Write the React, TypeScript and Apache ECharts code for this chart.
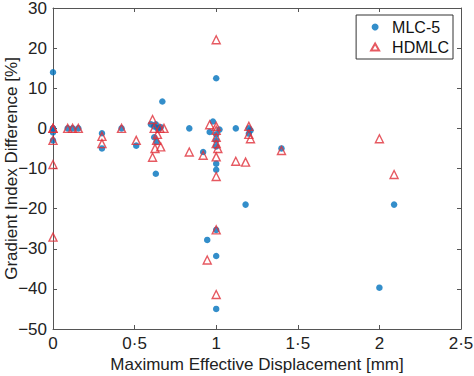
import React, { useEffect, useRef } from "react";
import * as echarts from "echarts";

const mlc5X = [0, 0, 0, 0, 0, 0.09, 0.12, 0.155, 0.3, 0.3, 0.42, 0.51, 0.6, 0.62, 0.63, 0.64, 0.65, 0.66, 0.67, 0.62, 0.635, 0.63, 0.835, 0.92, 0.945, 0.96, 0.98, 1.0, 1.02, 1.0, 1.0, 1.0, 1.0, 1.0, 1.0, 1.0, 1.0, 1.12, 1.18, 1.2, 1.2, 1.21, 1.4, 2.0, 2.09];
const mlc5Y = [14, 0, 0, -3, -1, 0, 0, 0, -1.2, -5, 0, -4.3, 1, 0.5, 1, 0, 0, 0.3, 6.7, -2.2, -3.4, -11.3, 0, -5.9, -27.8, -0.9, 1.7, 12.5, -0.3, -1.5, -3, -4.5, -8.8, -10.3, -25.3, -31.8, -45, 0, -19, 0, -1.3, -0.5, -5, -39.7, -19];

const hdmlcX = [0, 0, 0, 0, 0, 0.09, 0.12, 0.155, 0.3, 0.3, 0.42, 0.51, 0.61, 0.62, 0.64, 0.655, 0.66, 0.625, 0.61, 0.635, 0.68, 0.835, 0.92, 0.945, 0.96, 1.0, 1.0, 1.0, 1.0, 1.0, 1.01, 1.0, 1.0, 1.0, 1.0, 1.12, 1.18, 1.2, 1.21, 1.2, 1.4, 2.0, 2.09];
const hdmlcY = [0, 0, -3, -9, -27.1, 0, 0, 0, -2, -3.8, 0, -3, 2.2, 0, -1.5, 0, -4.6, -5, -7.2, -3, 0, -5.9, -6.7, -32.8, 0.9, 22.1, 0.5, -0.5, -2.2, -3.8, -5, -7.1, -12, -25.3, -41.4, -8.2, -8.4, 0.5, -2.6, -1.5, -5.5, -2.6, -11.5];

const xTicks = [0, 0.5, 1, 1.5, 2, 2.5];
const yTicks = [-50, -40, -30, -20, -10, 0, 10, 20, 30];

const FONT = "Liberation Sans, Arial, sans-serif";
const AXIS_COLOR = "#555";
const BLUE = "#0072BD";
const RED = "#E0303A";

export default function App() {
  const ref = useRef<HTMLDivElement>(null);
  useEffect(() => {
    if (!ref.current) return;
    const chart = echarts.init(ref.current, undefined, { renderer: "svg" });
    const fmtX = (v: number) => String(v).replace(".", "\u00b7");
    const fmtY = (v: number) => String(v).replace("-", "\u2212");
    const axisBase = {
      axisLine: { show: true, onZero: false, lineStyle: { color: AXIS_COLOR, width: 1 } },
      axisTick: { show: true, inside: true, length: 4, lineStyle: { color: AXIS_COLOR } },
      splitLine: { show: false },
    };
    chart.setOption({
      animation: false,
      backgroundColor: "#fff",
      grid: { left: 53, right: 13, top: 8, bottom: 47, containLabel: false, outerBoundsMode: "none" },
      legend: {
        orient: "vertical",
        right: 21,
        top: 15,
        backgroundColor: "#fff",
        borderColor: "#333",
        borderWidth: 1,
        padding: [4, 4, 4, 14],
        itemGap: 4,
        itemWidth: 8,
        itemHeight: 7,
        textStyle: { fontFamily: FONT, fontSize: 16, color: "#111", padding: [0, 0, 0, 8] },
        data: ["MLC-5", "HDMLC"],
      },
      xAxis: [
        {
          type: "value",
          min: 0,
          max: 2.5,
          interval: 0.5,
          position: "bottom",
          name: "Maximum Effective Displacement [mm]",
          nameLocation: "middle",
          nameGap: 27,
          nameMoveOverlap: false,
          nameTextStyle: { fontFamily: FONT, fontSize: 17, color: "#222" },
          axisLabel: {
            fontFamily: FONT,
            fontSize: 17,
            color: "#222",
            margin: 6,
            formatter: (v: number) => (xTicks.includes(v) ? fmtX(v) : ""),
          },
          ...axisBase,
        },
        {
          type: "value",
          min: 0,
          max: 2.5,
          interval: 0.5,
          position: "top",
          axisLabel: { show: false },
          ...axisBase,
        },
      ],
      yAxis: [
        {
          type: "value",
          min: -50,
          max: 30,
          interval: 10,
          position: "left",
          name: "Gradient Index Difference [%]",
          nameLocation: "middle",
          nameGap: 33,
          nameMoveOverlap: false,
          nameTextStyle: { fontFamily: FONT, fontSize: 17, color: "#222" },
          axisLabel: {
            fontFamily: FONT,
            fontSize: 17,
            color: "#222",
            margin: 6,
            formatter: (v: number) => (yTicks.includes(v) ? fmtY(v) : ""),
          },
          ...axisBase,
        },
        {
          type: "value",
          min: -50,
          max: 30,
          interval: 10,
          position: "right",
          axisLabel: { show: false },
          ...axisBase,
        },
      ],
      series: [
        {
          name: "MLC-5",
          type: "scatter",
          symbol: "circle",
          symbolSize: 6.5,
          itemStyle: { color: BLUE },
          data: mlc5X.map((x, i) => [x, mlc5Y[i]]),
          z: 2,
        },
        {
          name: "HDMLC",
          type: "scatter",
          symbol: "triangle",
          symbolSize: 8,
          itemStyle: { color: "rgba(255,255,255,0)", borderColor: RED, borderWidth: 1.4 },
          data: hdmlcX.map((x, i) => [x, hdmlcY[i]]),
          z: 3,
        },
      ],
    });
    return () => chart.dispose();
  }, []);
  return (
    <div
      ref={ref}
      style={{ position: "fixed", left: 0, top: 0, width: 474, height: 376 }}
    />
  );
}
